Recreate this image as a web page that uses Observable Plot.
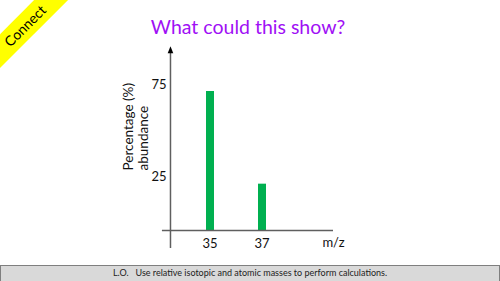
<!DOCTYPE html>
<html>
<head>
<meta charset="utf-8">
<script src="https://cdn.jsdelivr.net/npm/d3@7"></script>
<script src="https://cdn.jsdelivr.net/npm/@observablehq/plot@0.6"></script>
<style>
  html, body { margin: 0; padding: 0; background: #fff; }
  #wrap { position: relative; width: 500px; height: 281px; overflow: hidden; font-family: Lato, "Open Sans", sans-serif; }
  #title { height: 40px; text-align: center; font-size: 19.5px; color: #a010f5; line-height: 20px; padding-top: 17px; box-sizing: border-box; padding-right: 4px; }
  #chart svg { display: block; }
  #footer { position: absolute; left: 0; top: 265px; width: 500px; height: 20px; background: #d9d9d9; border: 1.5px solid #7f7f7f; box-sizing: border-box; text-align: center; font-size: 9px; line-height: 14px; color: #222; white-space: pre; }
  #banner { position: absolute; left: -34.75px; top: 13.5px; width: 120px; height: 23.5px; background: #ffff00; transform: rotate(-45deg); text-align: center; font-size: 14px; line-height: 23.5px; color: #000; }
</style>
</head>
<body>
<div id="wrap">
  <div id="title">What could this show?</div>
  <div id="chart"></div>
  <div id="footer">L.O.   Use relative isotopic and atomic masses to perform calculations.</div>
  <div id="banner">Connect</div>
</div>
<script>
// Data
const massToCharge = [35, 37];
const abundance = [75, 25];
const yTickValues = [25, 75];
const xTickValues = [35, 37];
const yLabel = "Percentage (%)\nabundance";
const xLabel = "m/z";

const data = massToCharge.map((m, i) => ({mz: m, pct: abundance[i]}));

// Layout constants (axis extents in data units)
const yAxisAt = 33.48, xAxisStart = 33.17, xAxisEnd = 39.75;
const yAxisBottom = -9.7, yAxisTop = 95.7;

const arrowHead = {
  draw(ctx) { ctx.moveTo(0, -7); ctx.lineTo(2.8, 0); ctx.lineTo(-2.8, 0); ctx.closePath(); }
};

const axisColor = "#5f5f5f";
const plot = Plot.plot({
  width: 500,
  height: 225,
  margin: 0,
  style: {fontFamily: "Lato, 'Open Sans', sans-serif", background: "transparent"},
  x: {domain: [35, 37], range: [209.5, 261.5], axis: null},
  y: {domain: [0, 75], range: [190, 51], axis: null},
  marks: [
    Plot.ruleX(data, {x: "mz", y1: 0, y2: "pct", stroke: "#00b050", strokeWidth: 8}),
    Plot.ruleY([0], {x1: xAxisStart, x2: xAxisEnd, stroke: axisColor, strokeWidth: 1.5}),
    Plot.ruleX([yAxisAt], {y1: yAxisBottom, y2: yAxisTop, stroke: axisColor, strokeWidth: 1.5}),
    Plot.dot([yAxisAt], {x: d => d, y: () => yAxisTop, symbol: arrowHead, fill: "#000", stroke: "none"}),
    Plot.text(yTickValues, {x: () => yAxisAt, y: d => d, text: d => String(d), dx: -4, dy: -7, textAnchor: "end", fontSize: 13, fill: "#111"}),
    Plot.text(xTickValues, {x: d => d, y: () => 0, text: d => String(d), dy: 13, fontSize: 13, fill: "#111"}),
    Plot.text([xLabel], {x: () => 39.75, y: () => 0, text: d => d, dy: 12, fontSize: 13, fill: "#111"}),
    Plot.text([yLabel], {x: () => 32.15, y: () => 32.4, text: d => d, rotate: -90, textAnchor: "start", fontSize: 13.5, lineHeight: 1.1, fill: "#111"})
  ]
});
document.getElementById("chart").appendChild(plot);
</script>
</body>
</html>
